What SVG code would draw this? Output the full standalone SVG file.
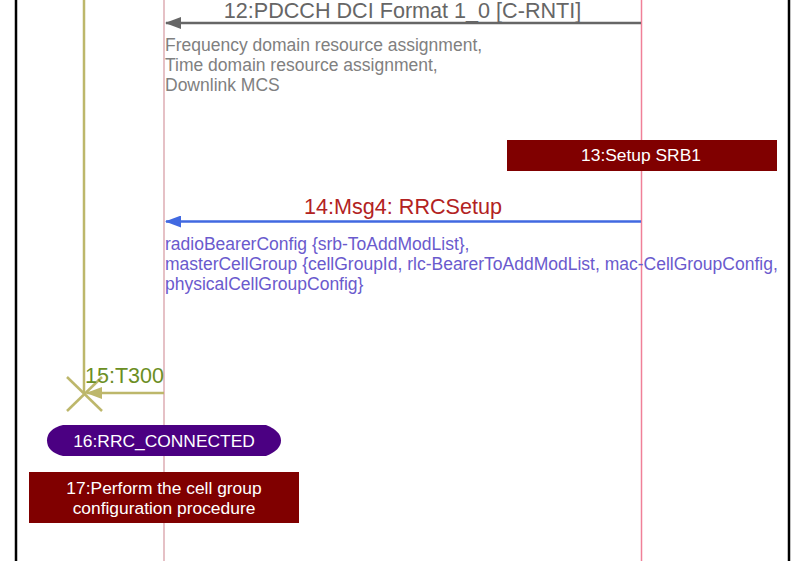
<svg xmlns="http://www.w3.org/2000/svg" width="802" height="561" viewBox="0 0 802 561">
<style>
text{font-family:"Liberation Sans",Arial,sans-serif}
.msg{font-size:21.6px;text-anchor:middle}
.note{font-size:17.5px}
.box{fill:#800000}
.wt{fill:#ffffff;font-size:17.4px;text-anchor:middle}
</style>
<defs>
<marker id="ahGray" markerWidth="16" markerHeight="12" refX="15" refY="6" orient="auto" markerUnits="userSpaceOnUse"><path d="M0,0 L16,6 L0,12 Z" fill="#666666"/></marker>
<marker id="ahBlue" markerWidth="16" markerHeight="12" refX="15" refY="6" orient="auto" markerUnits="userSpaceOnUse"><path d="M0,0 L16,6 L0,12 Z" fill="#4169e1"/></marker>
<marker id="ahOlive" markerWidth="16" markerHeight="12" refX="15" refY="6" orient="auto" markerUnits="userSpaceOnUse"><path d="M0,0 L16,6 L0,12 Z" fill="#bdb76b"/></marker>
</defs>
<rect width="802" height="561" fill="#ffffff"/>
<g id="frame">
<line x1="16" y1="0" x2="16" y2="561" stroke="#000" stroke-width="2.5"/>
<line x1="789" y1="0" x2="789" y2="561" stroke="#000" stroke-width="2.5"/>
</g>
<g id="lifelines">
<line x1="164" y1="0" x2="164" y2="561" stroke="#d8a0a8" stroke-width="1.3"/>
<line x1="641.5" y1="0" x2="641.5" y2="561" stroke="#f08098" stroke-width="1.5"/>
</g>
<g id="connectors">
<line x1="641" y1="23" x2="166" y2="23" stroke="#666666" stroke-width="2.5" marker-end="url(#ahGray)"/>
<line x1="641" y1="221.5" x2="166" y2="221.5" stroke="#4169e1" stroke-width="2.5" marker-end="url(#ahBlue)"/>
<line x1="84" y1="0" x2="84" y2="393" stroke="#bdb76b" stroke-width="2.5"/>
<line x1="164" y1="393" x2="87" y2="393" stroke="#bdb76b" stroke-width="2.5" marker-end="url(#ahOlive)"/>
<line x1="67" y1="377" x2="102" y2="411" stroke="#bdb76b" stroke-width="2.5"/>
<line x1="102" y1="377" x2="67" y2="411" stroke="#bdb76b" stroke-width="2.5"/>
</g>
<g id="msg12">
<text class="msg" x="402.5" y="17.5" fill="#666666">12:PDCCH DCI Format 1_0 [C-RNTI]</text>
<text class="note" fill="#808080"><tspan x="165" y="51">Frequency domain resource assignment,</tspan><tspan x="165" y="71">Time domain resource assignment,</tspan><tspan x="165" y="91">Downlink MCS</tspan></text>
</g>
<g id="action13">
<rect class="box" x="507" y="140" width="270" height="31"/>
<text class="wt" x="641" y="161">13:Setup SRB1</text>
</g>
<g id="msg14">
<text class="msg" x="403" y="214" fill="#b22222">14:Msg4: RRCSetup</text>
<text class="note" fill="#6a5acd"><tspan x="165" y="250">radioBearerConfig {srb-ToAddModList},</tspan><tspan x="165" y="270">masterCellGroup {cellGroupId, rlc-BearerToAddModList, mac-CellGroupConfig,</tspan><tspan x="165" y="290">physicalCellGroupConfig}</tspan></text>
</g>
<g id="timer15">
<text x="85" y="383" font-size="21.5" fill="#6b8e23">15:T300</text>
</g>
<g id="state16">
<path d="M63,425 H266 Q281,431 281,440.5 Q281,450 266,456 H63 Q47,452 47,440.5 Q47,429 63,425 Z" fill="#4b0082"/>
<text class="wt" x="164" y="446.5">16:RRC_CONNECTED</text>
</g>
<g id="action17">
<rect class="box" x="29" y="472" width="270" height="51"/>
<text class="wt" font-size="18"><tspan x="164" y="494">17:Perform the cell group</tspan><tspan x="164" y="514">configuration procedure</tspan></text>
</g>
</svg>
